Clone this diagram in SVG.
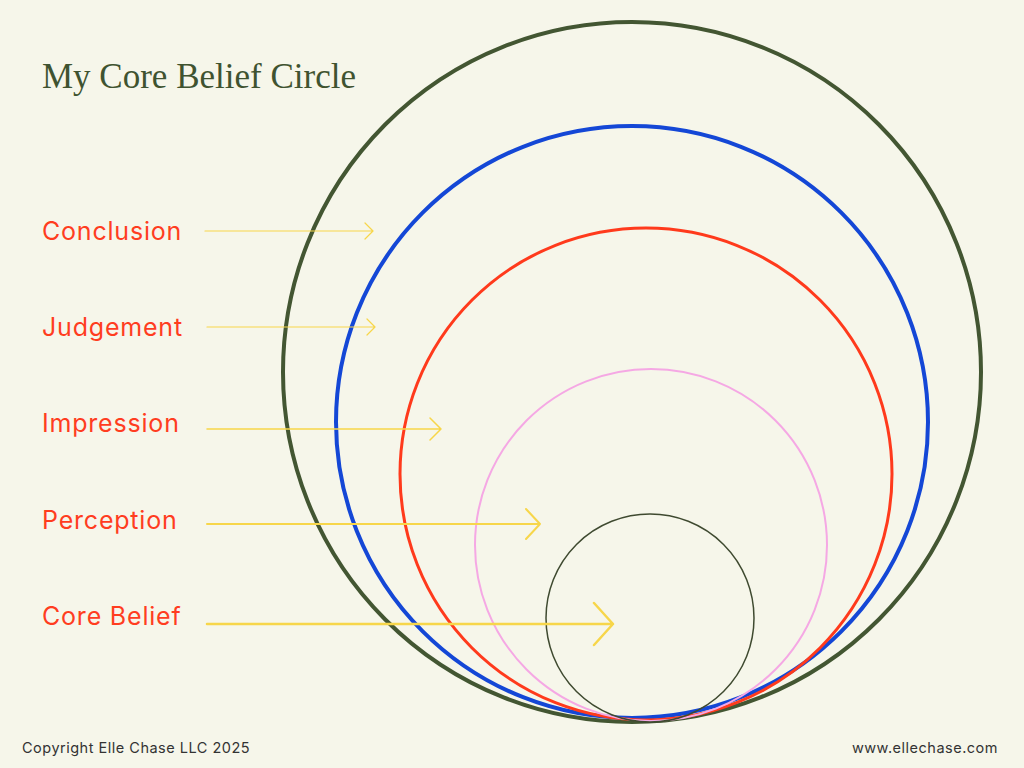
<svg xmlns="http://www.w3.org/2000/svg" width="1024" height="768" viewBox="0 0 1024 768">
<style>
.lbl{font-family:"Inter","Liberation Sans",sans-serif;font-size:25px;letter-spacing:0.8px;fill:#ff3d1f}
.ft{font-family:"Inter","Liberation Sans",sans-serif;font-size:14.5px;letter-spacing:0.5px;fill:#333}
.ar{stroke:#f7d64a;fill:none;stroke-linecap:round;stroke-linejoin:round}
</style>
<rect width="1024" height="768" fill="#f6f6ea"/>
<text x="42" y="88" font-family="Liberation Serif, serif" font-size="35" fill="#3f5330">My Core Belief Circle</text>
<g id="circles" fill="none">
<g id="outer"><ellipse cx="632" cy="372" rx="349" ry="350" stroke="#435632" stroke-width="4"/></g>
<g id="blue"><circle cx="632" cy="422" r="296" stroke="#1447d6" stroke-width="4"/></g>
<g id="red"><circle cx="646" cy="474" r="246" stroke="#ff3a1c" stroke-width="3"/></g>
<g id="pink"><circle cx="651" cy="545" r="176" stroke="#f5a8e4" stroke-width="2"/></g>
<g id="core"><circle cx="650" cy="618" r="104" stroke="#3f4a30" stroke-width="1.5"/></g>
</g>
<g id="labels">
<text class="lbl" x="42" y="240">Conclusion</text>
<text class="lbl" x="42" y="336">Judgement</text>
<text class="lbl" x="42" y="432">Impression</text>
<text class="lbl" x="42" y="529">Perception</text>
<text class="lbl" x="42" y="625">Core Belief</text>
</g>
<g id="connectors">
<path class="ar" stroke-width="1.2" d="M205 231H373M365 223L373 231L365 239"/>
<path class="ar" stroke-width="1.2" d="M207 327H375M367 319L375 327L367 335"/>
<path class="ar" stroke-width="1.5" d="M207 429H441M430 418L441 429L430 440"/>
<path class="ar" stroke-width="2" d="M207 524H540M526 509L540 524L526 539"/>
<path class="ar" stroke-width="2.5" d="M207 624H613M594 603L613 624L594 645"/>
</g>
<text class="ft" x="22" y="753">Copyright Elle Chase LLC 2025</text>
<text class="ft" x="998" y="753" text-anchor="end">www.ellechase.com</text>
</svg>
